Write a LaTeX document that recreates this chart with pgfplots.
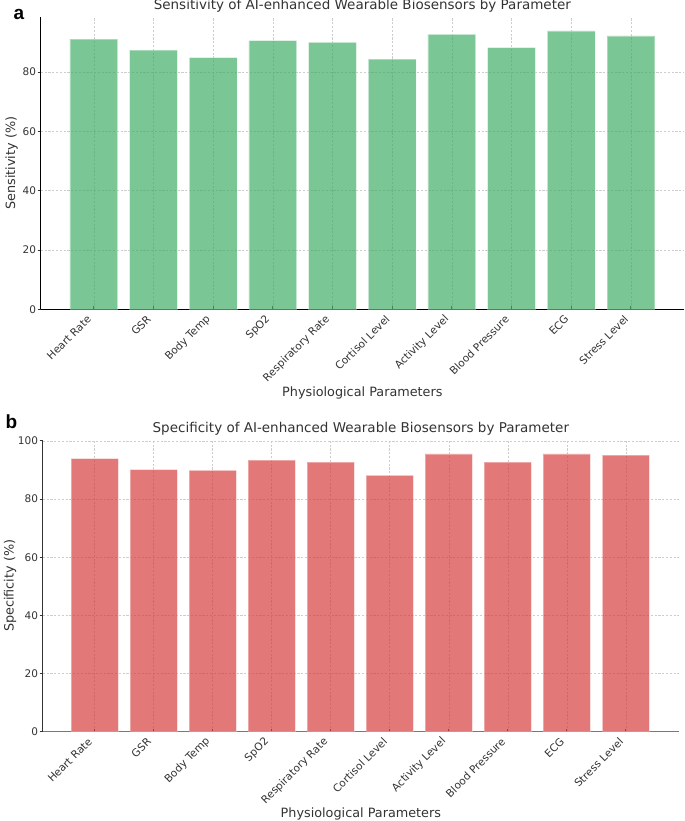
\documentclass[border=0pt]{standalone}
\usepackage{pgfplots}
\pgfplotsset{compat=1.18}
\usepackage{fontspec}
\setmainfont{DejaVu Sans}
\newfontfamily\panelfont{Liberation Sans}

\definecolor{sensgreen}{RGB}{65,174,102}
\definecolor{specred}{RGB}{214,62,62}
\definecolor{gridgray}{RGB}{205,205,205}
\definecolor{txt}{RGB}{51,51,51}
\definecolor{spinegray}{RGB}{120,120,120}

\newcommand{\ticksize}{\fontsize{10.6bp}{13bp}\selectfont}
\newcommand{\ytsize}{\fontsize{10.5bp}{12bp}\selectfont}
\newcommand{\labsize}{\fontsize{12.8bp}{15bp}\selectfont}
\newcommand{\titsize}{\fontsize{13.5bp}{16bp}\selectfont}

\pgfplotsset{
  biosensor/.style={
    scale only axis,
    anchor=south west,
    ymin=0,
    xtick={0,...,9},
    xticklabels={Heart Rate,GSR,Body Temp,SpO2,Respiratory Rate,Cortisol Level,Activity Level,Blood Pressure,ECG,Stress Level},
    ytick={0,20,...,100},
    axis x line*=bottom,
    axis y line*=left,
    grid=major,
    major grid style={gridgray, dash pattern=on 2.2bp off 1.6bp, line width=0.6bp},
    major tick length=3bp,
    xtick align=inside,
    ytick align=outside,
    tick style={txt, line width=0.8bp},
    /pgf/number format/assume math mode=true,
    yticklabel style={font=\ytsize, text=txt, inner sep=0pt, xshift=-1.5bp},
    xticklabel style={font=\ticksize, text=txt, inner sep=0pt, xshift=-4.5bp, yshift=-8bp, rotate=45, anchor=east},
    title style={at={(axis description cs:0.5,1)}, anchor=base, yshift=2bp, font=\titsize, text=txt, inner sep=0pt},
    xlabel style={at={(axis description cs:0.5,0)}, anchor=center, font=\labsize, text=txt, inner sep=0pt},
    ylabel style={anchor=center, font=\labsize, text=txt, inner sep=0pt},
  }
}

\begin{document}
\begin{tikzpicture}
\path[use as bounding box] (0,0) rectangle (685bp,-821bp);

% Panel a: sensitivity
\begin{axis}[biosensor,
  at={(40.7bp,-309.3bp)},
  width=643.3bp, height=292.3bp,
  xmin=-0.89, xmax=9.89, ymax=98.6,
  axis line style={black, line width=1bp},
  title={Sensitivity of AI-enhanced Wearable Biosensors by Parameter},
  xlabel={Physiological Parameters},
  ylabel={Sensitivity (\%)},
  xlabel style={yshift=-84bp},
  ylabel style={at={([xshift=-29bp]axis description cs:0,0.5)}},
]
\addplot[ybar, bar width=0.8, fill=sensgreen, fill opacity=0.7,
  draw=white, draw opacity=0.35, line width=0.8bp]
  coordinates {(0,91.1) (1,87.4) (2,84.9) (3,90.6) (4,90.0)
               (5,84.4) (6,92.7) (7,88.3) (8,93.9) (9,92.2)};
\end{axis}

% Panel b: specificity
\begin{axis}[biosensor,
  at={(42.7bp,-731.7bp)},
  width=636.3bp, height=291.7bp,
  xmin=-0.88, xmax=9.90, ymax=100.3,
  x axis line style={spinegray, line width=1.4bp},
  y axis line style={txt, line width=1bp},
  title={Specificity of AI-enhanced Wearable Biosensors by Parameter},
  xlabel={Physiological Parameters},
  ylabel={Specificity (\%)},
  xlabel style={yshift=-82bp},
  ylabel style={at={([xshift=-32.7bp]axis description cs:0,0.5)}},
]
\addplot[ybar, bar width=0.8, fill=specred, fill opacity=0.7,
  draw=white, draw opacity=0.35, line width=0.8bp]
  coordinates {(0,93.9) (1,90.1) (2,89.9) (3,93.4) (4,92.7)
               (5,88.1) (6,95.5) (7,92.7) (8,95.5) (9,95.1)};
\end{axis}

\node[font=\panelfont\bfseries\fontsize{19bp}{21bp}\selectfont, anchor=base, inner sep=0pt]
  at (19bp,-19bp) {a};
\node[font=\panelfont\bfseries\fontsize{19bp}{21bp}\selectfont, anchor=base, inner sep=0pt]
  at (11.5bp,-428bp) {b};
\end{tikzpicture}
\end{document}
